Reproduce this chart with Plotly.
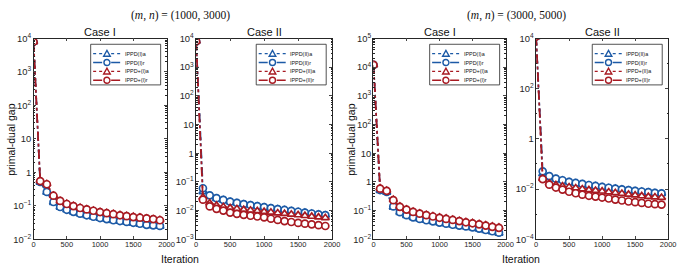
import plotly.graph_objects as go

iters = [0, 100, 200, 300, 400, 500, 600, 700, 800, 900, 1000,
         1100, 1200, 1300, 1400, 1500, 1600, 1700, 1800, 1900]

# Panel 1: (m,n)=(1000,3000), Case I
p1_a = [8000, 0.50, 0.25, 0.125, 0.090, 0.075, 0.065, 0.057, 0.051, 0.046,
        0.042, 0.039, 0.036, 0.034, 0.032, 0.030, 0.028, 0.027, 0.025, 0.024]
p1_r = [8000, 0.52, 0.26, 0.130, 0.092, 0.076, 0.066, 0.058, 0.052, 0.047,
        0.043, 0.040, 0.037, 0.035, 0.033, 0.031, 0.029, 0.027, 0.026, 0.025]
p1_pa = [8000, 0.56, 0.45, 0.20, 0.14, 0.115, 0.100, 0.088, 0.079, 0.072,
         0.066, 0.061, 0.057, 0.053, 0.050, 0.047, 0.045, 0.042, 0.040, 0.038]
p1_pr = [8000, 0.55, 0.44, 0.20, 0.14, 0.113, 0.098, 0.086, 0.078, 0.071,
         0.065, 0.060, 0.056, 0.052, 0.049, 0.046, 0.044, 0.042, 0.040, 0.037]

# Panel 2: (m,n)=(1000,3000), Case II
p2_a = [8000, 0.045, 0.032, 0.026, 0.023, 0.020, 0.018, 0.0165, 0.0152, 0.0140,
        0.0130, 0.0120, 0.0112, 0.0104, 0.0096, 0.0090, 0.0084, 0.0078, 0.0073, 0.0068]
p2_r = [8000, 0.060, 0.034, 0.027, 0.0235, 0.0205, 0.0185, 0.0168, 0.0154, 0.0142,
        0.0132, 0.0122, 0.0113, 0.0105, 0.0098, 0.0091, 0.0085, 0.0079, 0.0074, 0.0069]
p2_pa = [8000, 0.029, 0.018, 0.0150, 0.0135, 0.0124, 0.0115, 0.0108, 0.0102, 0.0097,
         0.0092, 0.0087, 0.0082, 0.0078, 0.0074, 0.0070, 0.0066, 0.0062, 0.0059, 0.0056]
p2_pr = [8000, 0.024, 0.014, 0.0115, 0.0100, 0.0085, 0.0077, 0.0071, 0.0066, 0.0062,
         0.0058, 0.0052, 0.0047, 0.0043, 0.0040, 0.0037, 0.0035, 0.0033, 0.0031, 0.0029]

# Panel 3: (m,n)=(3000,5000), Case I
p3_a = [12000, 0.50, 0.43, 0.13, 0.085, 0.067, 0.057, 0.050, 0.045, 0.041,
        0.037, 0.034, 0.031, 0.029, 0.027, 0.025, 0.0225, 0.020, 0.018, 0.016]
p3_r = [12000, 0.52, 0.45, 0.14, 0.088, 0.069, 0.058, 0.051, 0.046, 0.042,
        0.038, 0.035, 0.032, 0.030, 0.028, 0.026, 0.0235, 0.021, 0.019, 0.017]
p3_pa = [12000, 0.60, 0.50, 0.24, 0.14, 0.110, 0.092, 0.080, 0.071, 0.064,
         0.058, 0.053, 0.048, 0.044, 0.040, 0.037, 0.034, 0.031, 0.028, 0.026]
p3_pr = [12000, 0.58, 0.49, 0.23, 0.135, 0.108, 0.090, 0.078, 0.069, 0.062,
         0.056, 0.051, 0.047, 0.043, 0.039, 0.036, 0.033, 0.030, 0.027, 0.025]

# Panel 4: (m,n)=(3000,5000), Case II
p4_a = [12000, 0.040, 0.031, 0.025, 0.022, 0.019, 0.017, 0.0155, 0.014, 0.013,
        0.012, 0.011, 0.0103, 0.0096, 0.0089, 0.0083, 0.0078, 0.0073, 0.0069, 0.0066]
p4_r = [12000, 0.051, 0.033, 0.026, 0.0225, 0.0195, 0.0175, 0.016, 0.0145, 0.0133,
        0.0123, 0.0113, 0.0105, 0.0098, 0.0091, 0.0085, 0.0080, 0.0075, 0.0070, 0.0067]
p4_pa = [12000, 0.026, 0.017, 0.0145, 0.0130, 0.0120, 0.0110, 0.0100, 0.0093, 0.0087,
         0.0082, 0.0076, 0.0071, 0.0066, 0.0061, 0.0057, 0.0053, 0.0050, 0.0048, 0.0046]
p4_pr = [12000, 0.025, 0.015, 0.0115, 0.0095, 0.0078, 0.0068, 0.0060, 0.0054, 0.0050,
         0.0046, 0.0042, 0.0038, 0.0035, 0.0032, 0.0030, 0.0028, 0.0026, 0.0025, 0.0024]

names_I = ["IPPD(I)a", "IPPD(I)r", "IPPD+(I)a", "IPPD+(I)r"]
names_II = ["IPPD(II)a", "IPPD(II)r", "IPPD+(II)a", "IPPD+(II)r"]
panel_titles = ["Case I", "Case II", "Case I", "Case II"]
super_titles = ["(<i>m</i>, <i>n</i>) = (1000, 3000)", "(<i>m</i>, <i>n</i>) = (3000, 5000)"]
xticks = [0, 500, 1000, 1500, 2000]

panels = [
    (names_I, [p1_a, p1_r, p1_pa, p1_pr], (-2, 4), 1),
    (names_II, [p2_a, p2_r, p2_pa, p2_pr], (-3, 4), 1),
    (names_I, [p3_a, p3_r, p3_pa, p3_pr], (-2, 5), 1),
    (names_II, [p4_a, p4_r, p4_pa, p4_pr], (-4, 4), 2),
]

BLUE = "#1c5aa6"
RED = "#a81a22"
styles = [
    (BLUE, "dot", "triangle-up"),
    (BLUE, "dash", "circle"),
    (RED, "dot", "triangle-up"),
    (RED, "dash", "circle"),
]

W, H = 685, 271
xdom_px = [(32, 167), (197, 335), (377, 511), (542, 676)]
top_px, bot_px = 33, 243
AX = "#262626"
FONT = "Liberation Sans, Arial, sans-serif"

fig = go.Figure()


def px(xp):
    return xp / W


def py(yp):
    return 1 - yp / H


for i, (names, series, yr, dt) in enumerate(panels):
    k = i + 1
    xa = "x" if k == 1 else f"x{k}"
    ya = "y" if k == 1 else f"y{k}"
    for (c, dash, sym), nm, vals in zip(styles, names, series):
        fig.add_trace(go.Scatter(
            x=iters, y=vals, name=nm, xaxis=xa, yaxis=ya, showlegend=False,
            mode="lines+markers",
            line=dict(color=c, width=1.7, dash=dash),
            marker=dict(symbol=sym, size=7, color="white",
                        line=dict(color=c, width=1.7)),
        ))
    x0, x1 = xdom_px[i]
    axkey = "xaxis" if k == 1 else f"xaxis{k}"
    aykey = "yaxis" if k == 1 else f"yaxis{k}"
    fig.layout[axkey] = dict(
        domain=[px(x0), px(x1)], anchor=ya, range=[0, 2000],
        tickvals=xticks, ticks="inside", ticklen=3, mirror="ticks",
        showline=True, linecolor=AX, linewidth=0.8, showgrid=False,
        zeroline=False, tickfont=dict(size=7.5, color=AX, family=FONT),
        ticklabelstandoff=-2,
    )
    fig.layout[aykey] = dict(
        domain=[py(bot_px), py(top_px)], anchor=xa, type="log",
        range=list(yr), dtick=dt, exponentformat="power",
        ticks="inside", ticklen=3, mirror="ticks",
        showline=True, linecolor=AX, linewidth=0.8, showgrid=False,
        zeroline=False, tickfont=dict(size=7.5, color=AX, family=FONT),
        minor=dict(ticks="inside", ticklen=1.5, tickcolor=AX, showgrid=False),
    )
    fig.add_annotation(
        x=px((x0 + x1) / 2), y=py(26), xref="paper", yref="paper",
        text=panel_titles[i], showarrow=False, xanchor="center", yanchor="middle",
        font=dict(size=11, color="#111111", family=FONT),
    )

    # legend box (MATLAB style), built with shapes + annotations
    bx1 = x1 - 6
    bx0 = bx1 - 71
    by0, by1 = 39, 81.5
    fig.add_shape(type="rect", xref="paper", yref="paper",
                  x0=px(bx0), x1=px(bx1), y0=py(by1), y1=py(by0),
                  line=dict(color=AX, width=0.8), fillcolor="white", layer="above")
    for j, ((c, dash, sym), nm) in enumerate(zip(styles, names)):
        ey = by0 + 9.8 + 9.3 * j
        fig.add_shape(type="line", xref="paper", yref="paper",
                      x0=px(bx0 + 2.5), x1=px(bx0 + 30.5), y0=py(ey), y1=py(ey),
                      line=dict(color=c, width=1.4, dash=dash), layer="above")
        mx = bx0 + 16.5
        if sym == "circle":
            fig.add_shape(type="circle", xref="paper", yref="paper",
                          xsizemode="pixel", ysizemode="pixel",
                          xanchor=px(mx), yanchor=py(ey),
                          x0=-3, x1=3, y0=-3, y1=3,
                          line=dict(color=c, width=1.4), fillcolor="white", layer="above")
        else:
            fig.add_shape(type="path", xref="paper", yref="paper",
                          xsizemode="pixel", ysizemode="pixel",
                          xanchor=px(mx), yanchor=py(ey),
                          path="M -3.3 -2.6 L 3.3 -2.6 L 0 3.2 Z",
                          line=dict(color=c, width=1.4), fillcolor="white", layer="above")
        fig.add_annotation(
            x=px(bx0 + 32.5), y=py(ey), xref="paper", yref="paper", text=nm,
            showarrow=False, xanchor="left", yanchor="middle",
            font=dict(size=5.4, color="#111111", family=FONT),
        )

for cx, t in zip([181, 522], super_titles):
    fig.add_annotation(
        x=px(cx), y=py(9), xref="paper", yref="paper", text=t,
        showarrow=False, xanchor="center", yanchor="middle",
        font=dict(size=11.5, color="#111111", family="Liberation Serif, DejaVu Serif, serif"),
    )
for cx in [181, 527]:
    fig.add_annotation(
        x=px(cx), y=py(264), xref="paper", yref="paper", text="Iteration",
        showarrow=False, xanchor="center", yanchor="middle",
        font=dict(size=10.5, color="#111111", family=FONT),
    )
for cx in [1, 346]:
    fig.add_annotation(
        x=px(cx), y=py(138), xref="paper", yref="paper", text="primal-dual gap",
        showarrow=False, xanchor="left", yanchor="middle", textangle=-90,
        font=dict(size=10.5, color="#111111", family=FONT),
    )

fig.update_layout(
    width=W, height=H, margin=dict(l=0, r=0, t=0, b=0),
    plot_bgcolor="white", paper_bgcolor="white", showlegend=False,
)

fig.write_html(
    "out.html",
    config={"displayModeBar": False},
    post_script="document.body.style.margin='0';document.body.style.overflow='hidden';",
)
